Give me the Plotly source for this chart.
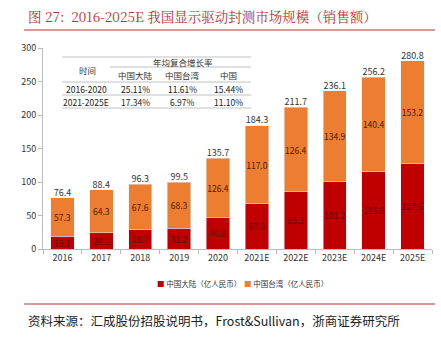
import plotly.graph_objects as go

years = ["2016", "2017", "2018", "2019", "2020", "2021E", "2022E", "2023E", "2024E", "2025E"]
mainland = [19.1, 24.1, 28.7, 31.2, 46.8, 67.3, 85.3, 101.2, 115.8, 127.6]
taiwan = [57.3, 64.3, 67.6, 68.3, 88.9, 117.0, 126.4, 134.9, 140.4, 153.2]
taiwan_labels = ["57.3", "64.3", "67.6", "68.3", "126.4", "117.0", "126.4", "134.9", "140.4", "153.2"]
totals = [76.4, 88.4, 96.3, 99.5, 135.7, 184.3, 211.7, 236.1, 256.2, 280.8]
series_names = ["中国大陆（亿人民币）", "中国台湾（亿人民币）"]

table_rows = [["2016-2020", "25.11%", "11.61%", "15.44%"],
              ["2021-2025E", "17.34%", "6.97%", "11.10%"]]
table_sub = ["中国大陆", "中国台湾", "中国"]

W, H = 441, 339
L, R, T, B = 43, 9, 48, 90
PW, PH = W - L - R, H - T - B

def px(x):
    return (x - L) / PW

def py(y):
    return (H - B - y) / PH

RED = "#C00000"
ORANGE = "#ED7D31"
TITLE_RED = "#B83232"
FONT = "Noto Sans CJK SC"

fig = go.Figure()
fig.add_trace(go.Bar(x=years, y=mainland, name=series_names[0], marker_color=RED,
                     text=[f"{v:.1f}" for v in mainland], textposition="inside", textangle=0,
                     constraintext="none",
                     insidetextanchor="middle", textfont=dict(size=8.5, color="#5a0000"),
                     width=0.6, showlegend=False))
fig.add_trace(go.Bar(x=years, y=taiwan, name=series_names[1], marker_color=ORANGE,
                     text=taiwan_labels, textposition="inside", textangle=0,
                     constraintext="none",
                     insidetextanchor="middle", textfont=dict(size=8.5, color="#4a2000"),
                     width=0.6, showlegend=False))
fig.add_trace(go.Scatter(x=years, y=totals, mode="text", text=[f"{v:.1f}" for v in totals],
                         textposition="top center", textfont=dict(size=9, color="#333"),
                         showlegend=False, hoverinfo="skip"))

ann = []
shapes = []
# title
ann.append(dict(x=px(26), y=py(16), xref="paper", yref="paper", xanchor="left", yanchor="middle",
                text="图 27:  2016-2025E 我国显示驱动封测市场规模（销售额）", showarrow=False,
                font=dict(size=13.5, color=TITLE_RED, family="Noto Serif CJK SC, " + FONT)))
shapes.append(dict(type="line", xref="paper", yref="paper", x0=px(24), x1=px(435), y0=py(30), y1=py(30),
                   line=dict(color=TITLE_RED, width=1.2)))
shapes.append(dict(type="line", xref="paper", yref="paper", x0=px(24), x1=px(435), y0=py(304), y1=py(304),
                   line=dict(color=TITLE_RED, width=1.2)))
ann.append(dict(x=px(26), y=py(320), xref="paper", yref="paper", xanchor="left", yanchor="middle",
                text="资料来源：汇成股份招股说明书，Frost&Sullivan，浙商证券研究所", showarrow=False,
                font=dict(size=12.5, color="#222", family=FONT)))

# legend (manual, compact as in the reference)
for xl, col, name in [(155, RED, series_names[0]), (242, ORANGE, series_names[1])]:
    ann.append(dict(x=px(xl), y=py(283), xref="paper", yref="paper", xanchor="left", yanchor="middle",
                    text=f"<span style='color:{col}'>■</span> {name}", showarrow=False,
                    font=dict(size=7.5, color="#333", family=FONT)))

# table
GRAY = "#b0b0b0"
for (y, x0) in [(57, 62), (67, 110), (82, 62), (95, 62), (108, 62)]:
    shapes.append(dict(type="line", xref="paper", yref="paper", x0=px(x0), x1=px(251), y0=py(y), y1=py(y),
                       line=dict(color=GRAY, width=0.8)))
tf = dict(size=8.5, color="#333", family=FONT)
def tann(x, y, s, font):
    ann.append(dict(x=px(x), y=py(y), xref="paper", yref="paper", text=s, showarrow=False,
                    xanchor="center", yanchor="middle", font=font))
tann(87, 70, "时间", tf)
tann(183, 62, "年均复合增长率", tf)
cols = [86, 135, 182, 228]
for i, s in enumerate(table_sub):
    tann(cols[i + 1], 75, s, tf)
for r, row in enumerate(table_rows):
    for c, s in enumerate(row):
        tann(cols[c], 88.5 + 13 * r, s, dict(size=8.5, color="#222", family=FONT))

fig.update_layout(
    width=W, height=H, margin=dict(l=L, r=R, t=T, b=B),
    paper_bgcolor="white", plot_bgcolor="white",
    barmode="stack", bargap=0.4,
    font=dict(family=FONT, size=9, color="#333"),
    showlegend=False,
    annotations=ann, shapes=shapes,
)
fig.update_xaxes(showline=True, linecolor="#bbbbbb", linewidth=1, ticks="outside", ticklen=4,
                 tickcolor="#bbbbbb", tickson="boundaries", tickfont=dict(size=9, color="#333"),
                 showgrid=False)
fig.update_yaxes(range=[0, 300], dtick=50, showline=True, linecolor="#bbbbbb", linewidth=1,
                 ticks="outside", ticklen=4, tickcolor="#bbbbbb", showgrid=False, zeroline=False,
                 tickfont=dict(size=9, color="#333"))

fig.write_html("out.html")
